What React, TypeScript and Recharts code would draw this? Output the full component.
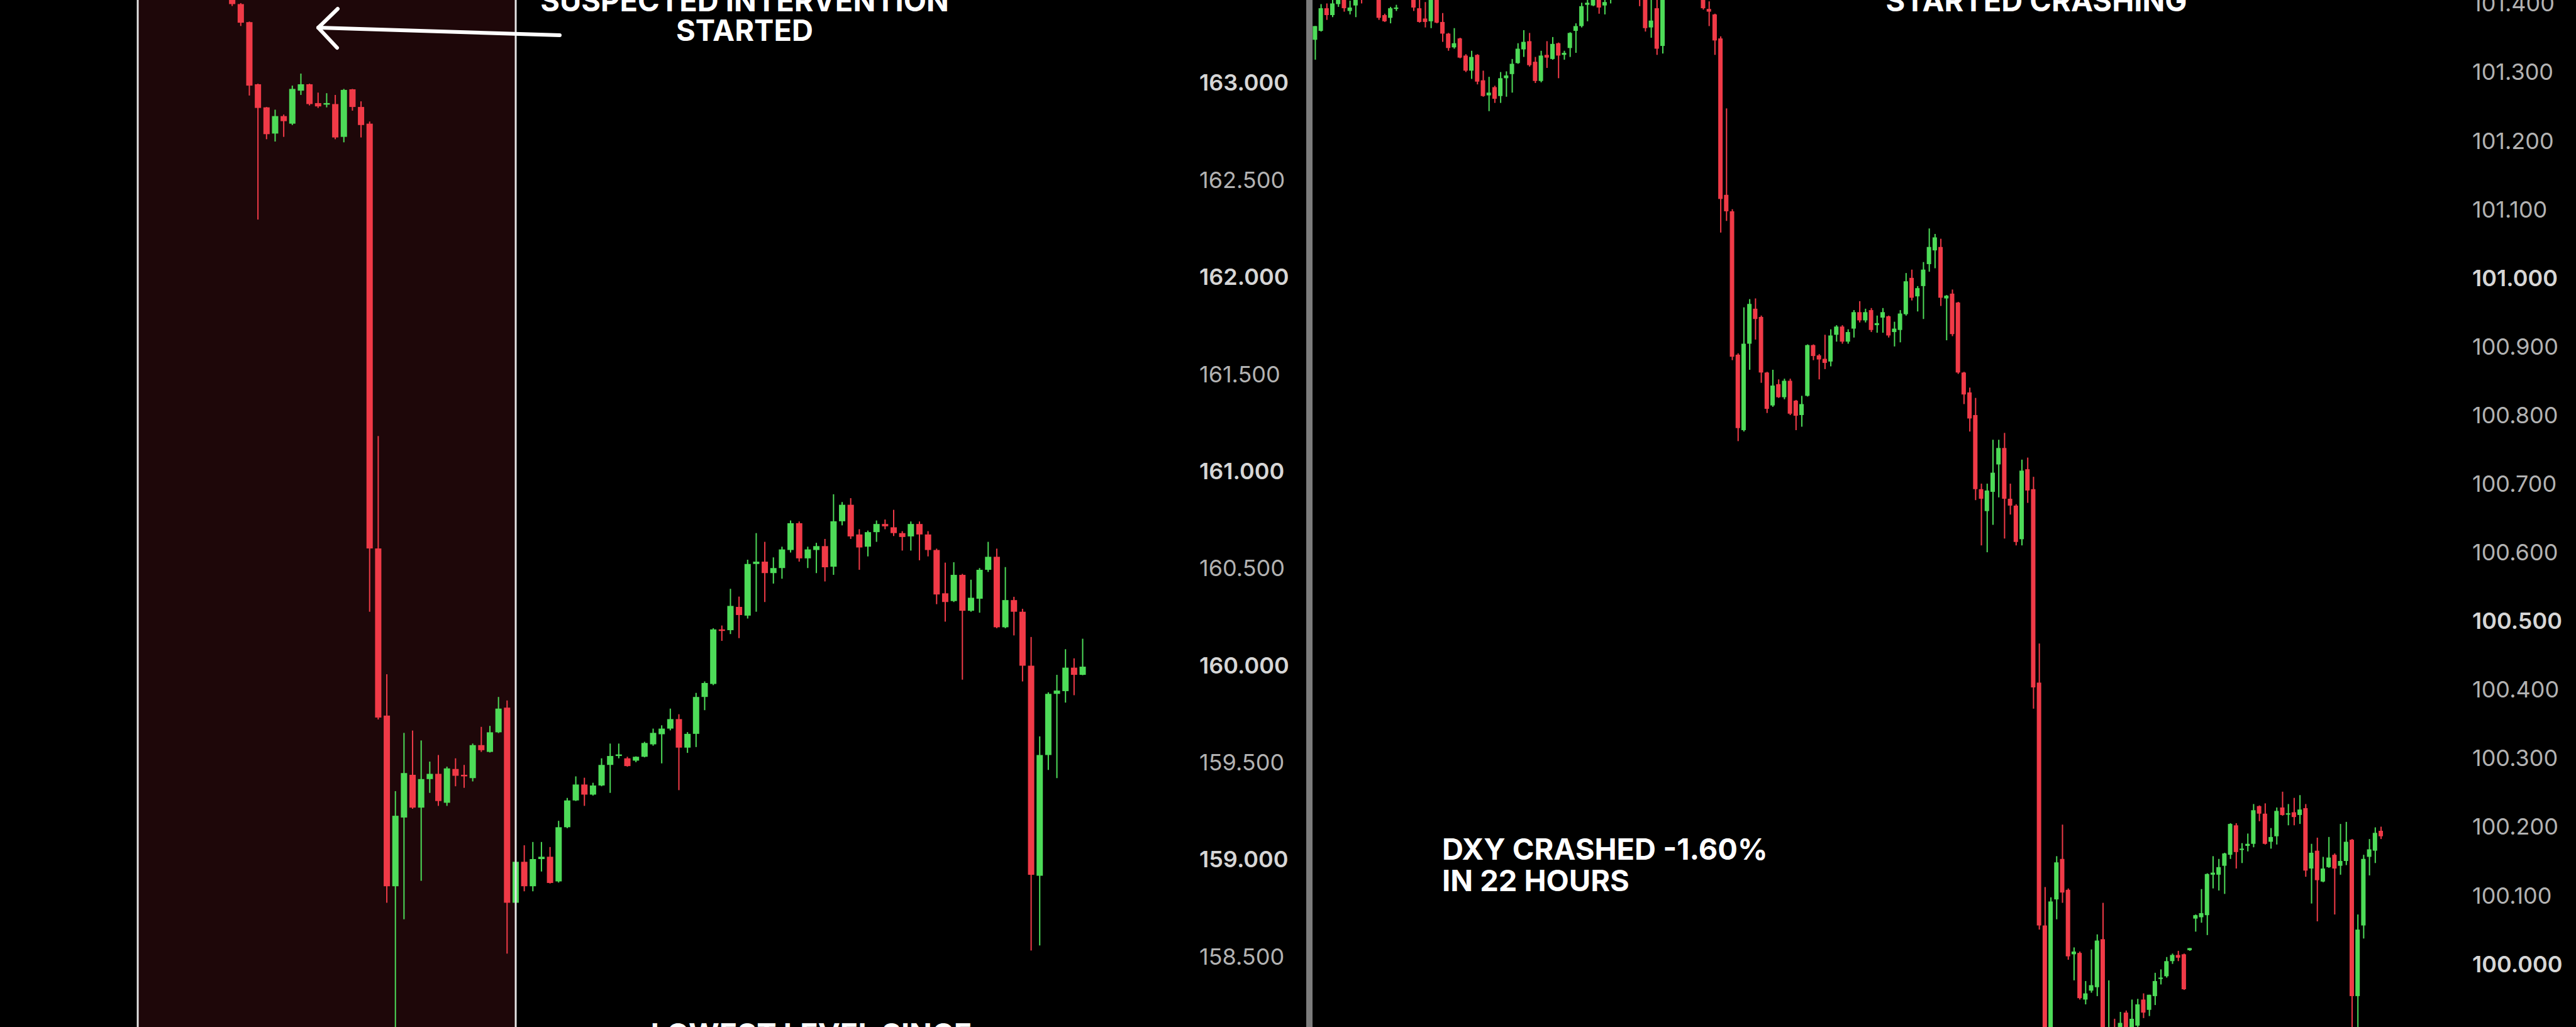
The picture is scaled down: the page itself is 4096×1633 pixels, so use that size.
import React from "react";
import { ComposedChart, Bar, XAxis, YAxis, ReferenceArea, ReferenceLine } from "recharts";

// USD/JPY (left panel), 100 candles
const leftOpen = [
  163.48, 163.405, 163.312, 162.992, 162.873, 162.738, 162.828, 162.789, 162.959, 162.992,
  162.895, 162.887, 162.89, 162.721, 162.966, 162.875, 162.789, 160.601, 159.74, 158.861,
  159.215, 159.435, 159.266, 159.413, 159.44, 159.291, 159.465, 159.435, 159.418, 159.588,
  159.553, 159.654, 159.781, 158.776, 158.987, 158.861, 159.001, 159.013, 158.886, 159.165,
  159.303, 159.385, 159.333, 159.38, 159.486, 159.532, 159.52, 159.508, 159.528, 159.592,
  159.644, 159.673, 159.722, 159.575, 159.646, 159.836, 159.903, 160.184, 160.18, 160.3,
  160.255, 160.521, 160.533, 160.474, 160.5, 160.593, 160.731, 160.55, 160.593, 160.613,
  160.507, 160.741, 160.826, 160.673, 160.61, 160.685, 160.727, 160.71, 160.68, 160.663,
  160.727, 160.673, 160.593, 160.37, 160.33, 160.465, 160.28, 160.342, 160.491, 160.558,
  160.195, 160.335, 160.275, 159.997, 158.915, 159.537, 159.852, 159.866, 159.987, 159.95,
];
const leftHigh = [
  163.52, 163.41, 163.315, 162.995, 162.875, 162.861, 162.836, 162.985, 163.047, 162.995,
  162.949, 162.946, 162.937, 162.968, 162.968, 162.904, 162.8, 161.18, 159.953, 159.351,
  159.651, 159.663, 159.612, 159.503, 159.537, 159.477, 159.52, 159.486, 159.596, 159.682,
  159.687, 159.836, 159.818, 159.131, 159.072, 159.089, 159.089, 159.063, 159.198, 159.316,
  159.427, 159.42, 159.394, 159.52, 159.596, 159.596, 159.528, 159.53, 159.605, 159.673,
  159.69, 159.776, 159.747, 159.655, 159.857, 159.916, 160.19, 160.204, 160.393, 160.353,
  160.543, 160.68, 160.635, 160.555, 160.61, 160.745, 160.74, 160.61, 160.63, 160.65,
  160.88, 160.84, 160.86, 160.7, 160.693, 160.745, 160.75, 160.8, 160.69, 160.74,
  160.74, 160.69, 160.6, 160.528, 160.53, 160.47, 160.44, 160.5, 160.635, 160.6,
  160.505, 160.352, 160.29, 160.145, 159.633, 159.86, 159.95, 160.082, 160.035, 160.136,
];
const leftLow = [
  163.395, 163.292, 162.934, 162.295, 162.709, 162.697, 162.721, 162.782, 162.937, 162.883,
  162.87, 162.873, 162.709, 162.693, 162.856, 162.718, 160.275, 159.72, 158.776, 158.0,
  158.691, 159.26, 158.889, 159.342, 159.275, 159.275, 159.376, 159.368, 159.401, 159.553,
  159.55, 159.65, 158.514, 158.742, 158.835, 158.835, 158.937, 158.875, 158.88, 159.16,
  159.3, 159.275, 159.328, 159.376, 159.342, 159.52, 159.477, 159.5, 159.525, 159.585,
  159.494, 159.664, 159.356, 159.548, 159.578, 159.768, 159.897, 160.125, 160.16, 160.139,
  160.24, 160.275, 160.325, 160.42, 160.445, 160.58, 160.533, 160.5, 160.474, 160.431,
  160.465, 160.72, 160.65, 160.491, 160.56, 160.635, 160.7, 160.665, 160.59, 160.59,
  160.54, 160.56, 160.314, 160.224, 160.325, 159.925, 160.275, 160.27, 160.48, 160.19,
  160.19, 160.153, 159.916, 158.53, 158.556, 159.46, 159.418, 159.807, 159.845, 159.948,
];
const leftClose = [
  163.405, 163.309, 162.985, 162.87, 162.735, 162.828, 162.802, 162.968, 162.992, 162.89,
  162.878, 162.895, 162.718, 162.963, 162.875, 162.782, 160.601, 159.73, 158.861, 159.224,
  159.444, 159.266, 159.413, 159.44, 159.3, 159.468, 159.43, 159.427, 159.588, 159.562,
  159.654, 159.776, 158.776, 158.987, 158.861, 159.001, 159.013, 158.878, 159.165, 159.303,
  159.385, 159.333, 159.38, 159.486, 159.532, 159.54, 159.48, 159.528, 159.599, 159.651,
  159.673, 159.722, 159.575, 159.646, 159.836, 159.908, 160.184, 160.176, 160.305, 160.258,
  160.521, 160.533, 160.474, 160.5, 160.596, 160.731, 160.55, 160.596, 160.613, 160.504,
  160.741, 160.826, 160.663, 160.606, 160.685, 160.727, 160.715, 160.68, 160.66, 160.727,
  160.673, 160.593, 160.364, 160.325, 160.465, 160.28, 160.347, 160.491, 160.558, 160.195,
  160.335, 160.275, 159.997, 158.92, 159.537, 159.852, 159.869, 159.987, 159.95, 159.992,
];

// DXY (right panel), 185 candles
const rightOpen = [
  101.347, 101.36, 101.393, 101.383, 101.399, 101.42, 101.389, 101.397, 101.42, 101.42,
  101.44, 101.43, 101.383, 101.379, 101.392, 101.415, 101.43, 101.42, 101.393, 101.378,
  101.374, 101.415, 101.373, 101.356, 101.336, 101.349, 101.324, 101.302, 101.325, 101.288,
  101.266, 101.278, 101.265, 101.291, 101.297, 101.313, 101.333, 101.345, 101.315, 101.287,
  101.325, 101.319, 101.342, 101.325, 101.335, 101.36, 101.367, 101.398, 101.397, 101.415,
  101.397, 101.405, 101.415, 101.435, 101.445, 101.432, 101.43, 101.42, 101.365, 101.393,
  101.338, 101.415, 101.43, 101.445, 101.44, 101.45, 101.435, 101.42, 101.392, 101.384,
  101.349, 101.121, 101.097, 100.888, 100.778, 100.904, 100.955, 100.943, 100.862, 100.814,
  100.845, 100.826, 100.85, 100.821, 100.8, 100.828, 100.902, 100.887, 100.882, 100.878,
  100.917, 100.929, 100.907, 100.926, 100.95, 100.938, 100.953, 100.931, 100.942, 100.944,
  100.921, 100.924, 100.947, 101.0, 100.973, 100.988, 101.02, 101.04, 101.045, 100.97,
  100.977, 100.964, 100.862, 100.833, 100.8, 100.692, 100.66, 100.688, 100.728, 100.752,
  100.678, 100.668, 100.619, 100.721, 100.692, 100.41, 100.056, 99.86, 100.094, 100.153,
  100.108, 100.014, 100.016, 99.948, 99.961, 99.966, 100.036, 99.87, 99.9, 99.89,
  99.929, 99.9, 99.91, 99.948, 99.933, 99.953, 99.978, 99.982, 100.004, 100.013,
  100.014, 100.02, 100.066, 100.068, 100.071, 100.13, 100.13, 100.143, 100.159, 100.202,
  100.166, 100.172, 100.175, 100.23, 100.219, 100.178, 100.186, 100.228, 100.218, 100.221,
  100.217, 100.227, 100.139, 100.165, 100.12, 100.141, 100.159, 100.143, 100.15, 100.181,
  99.953, 100.056, 100.156, 100.165, 100.194,
];
const rightHigh = [
  101.367, 101.399, 101.4, 101.41, 101.42, 101.43, 101.404, 101.42, 101.43, 101.45,
  101.46, 101.44, 101.385, 101.395, 101.398, 101.44, 101.445, 101.43, 101.405, 101.402,
  101.42, 101.42, 101.386, 101.357, 101.364, 101.35, 101.326, 101.331, 101.326, 101.302,
  101.293, 101.28, 101.3, 101.301, 101.319, 101.342, 101.361, 101.357, 101.322, 101.331,
  101.345, 101.351, 101.343, 101.331, 101.358, 101.371, 101.401, 101.41, 101.42, 101.42,
  101.41, 101.42, 101.44, 101.455, 101.46, 101.445, 101.44, 101.43, 101.41, 101.41,
  101.42, 101.44, 101.45, 101.465, 101.455, 101.46, 101.445, 101.43, 101.403, 101.385,
  101.352, 101.247, 101.1, 100.89, 100.957, 100.969, 100.97, 100.945, 100.863, 100.866,
  100.852, 100.853, 100.853, 100.822, 100.828, 100.903, 100.903, 100.889, 100.917, 100.925,
  100.931, 100.931, 100.925, 100.953, 100.966, 100.955, 100.956, 100.945, 100.956, 100.945,
  100.936, 100.953, 101.007, 101.012, 100.988, 101.023, 101.072, 101.064, 101.057, 100.975,
  100.983, 100.965, 100.863, 100.84, 100.825, 100.7, 100.7, 100.764, 100.764, 100.774,
  100.7, 100.67, 100.735, 100.738, 100.71, 100.467, 100.112, 100.097, 100.157, 100.203,
  100.11, 100.024, 100.018, 99.975, 100.021, 100.043, 100.089, 99.976, 99.92, 99.93,
  99.932, 99.948, 99.949, 99.957, 99.955, 99.987, 99.992, 100.01, 100.015, 100.019,
  100.015, 100.023, 100.072, 100.109, 100.132, 100.157, 100.153, 100.162, 100.205, 100.205,
  100.176, 100.19, 100.233, 100.231, 100.234, 100.198, 100.228, 100.251, 100.233, 100.242,
  100.246, 100.233, 100.175, 100.184, 100.156, 100.185, 100.161, 100.204, 100.207, 100.182,
  100.072, 100.159, 100.182, 100.199, 100.2,
];
const rightLow = [
  101.318, 101.359, 101.376, 101.38, 101.395, 101.388, 101.384, 101.38, 101.4, 101.412,
  101.415, 101.376, 101.373, 101.371, 101.389, 101.41, 101.412, 101.389, 101.372, 101.365,
  101.364, 101.371, 101.344, 101.331, 101.334, 101.32, 101.3, 101.29, 101.282, 101.264,
  101.243, 101.255, 101.255, 101.264, 101.27, 101.312, 101.322, 101.308, 101.284, 101.285,
  101.306, 101.318, 101.291, 101.318, 101.322, 101.328, 101.365, 101.374, 101.396, 101.385,
  101.384, 101.4, 101.41, 101.42, 101.425, 101.415, 101.396, 101.359, 101.35, 101.325,
  101.327, 101.41, 101.42, 101.43, 101.425, 101.43, 101.415, 101.391, 101.367, 101.325,
  101.066, 101.083, 100.88, 100.762, 100.776, 100.866, 100.91, 100.847, 100.803, 100.812,
  100.825, 100.823, 100.8, 100.778, 100.783, 100.827, 100.88, 100.852, 100.867, 100.871,
  100.907, 100.904, 100.904, 100.913, 100.935, 100.935, 100.921, 100.92, 100.92, 100.913,
  100.9, 100.906, 100.945, 100.967, 100.951, 100.94, 101.009, 101.014, 100.959, 100.909,
  100.915, 100.86, 100.816, 100.776, 100.676, 100.61, 100.6, 100.64, 100.68, 100.62,
  100.655, 100.61, 100.61, 100.672, 100.372, 100.05, 99.84, 99.84, 100.065, 100.089,
  100.006, 99.976, 99.948, 99.941, 99.958, 99.953, 99.86, 99.86, 99.87, 99.88,
  99.89, 99.89, 99.9, 99.921, 99.924, 99.94, 99.97, 99.98, 100.0, 100.004,
  99.962, 100.019, 100.047, 100.06, 100.042, 100.11, 100.107, 100.102, 100.153, 100.139,
  100.147, 100.164, 100.17, 100.208, 100.174, 100.168, 100.174, 100.216, 100.202, 100.202,
  100.204, 100.127, 100.088, 100.062, 100.119, 100.14, 100.072, 100.13, 100.144, 99.9,
  99.9, 100.037, 100.129, 100.147, 100.182,
];
const rightClose = [
  101.367, 101.393, 101.383, 101.4, 101.41, 101.393, 101.394, 101.41, 101.41, 101.44,
  101.43, 101.379, 101.374, 101.393, 101.394, 101.43, 101.425, 101.394, 101.373, 101.373,
  101.415, 101.372, 101.356, 101.335, 101.342, 101.321, 101.302, 101.322, 101.286, 101.265,
  101.27, 101.261, 101.291, 101.295, 101.312, 101.334, 101.344, 101.31, 101.287, 101.324,
  101.321, 101.341, 101.324, 101.328, 101.357, 101.367, 101.396, 101.401, 101.41, 101.394,
  101.402, 101.412, 101.435, 101.445, 101.432, 101.425, 101.415, 101.364, 101.375, 101.334,
  101.415, 101.43, 101.445, 101.44, 101.45, 101.435, 101.425, 101.393, 101.388, 101.346,
  101.115, 101.097, 100.885, 100.781, 100.904, 100.962, 100.94, 100.862, 100.809, 100.843,
  100.826, 100.85, 100.802, 100.799, 100.816, 100.902, 100.886, 100.881, 100.876, 100.916,
  100.929, 100.907, 100.921, 100.95, 100.938, 100.95, 100.924, 100.934, 100.95, 100.916,
  100.926, 100.948, 100.995, 100.971, 100.985, 101.012, 101.045, 101.059, 100.971, 100.974,
  100.918, 100.862, 100.83, 100.795, 100.692, 100.678, 100.69, 100.716, 100.752, 100.678,
  100.668, 100.615, 100.719, 100.69, 100.403, 100.056, 99.86, 100.091, 100.148, 100.104,
  100.011, 100.018, 99.95, 99.957, 99.969, 100.034, 99.88, 99.9, 99.88, 99.914,
  99.9, 99.92, 99.941, 99.929, 99.955, 99.975, 99.98, 100.004, 100.013, 100.009,
  99.963, 100.023, 100.071, 100.074, 100.131, 100.133, 100.141, 100.161, 100.204, 100.163,
  100.168, 100.175, 100.224, 100.219, 100.175, 100.185, 100.223, 100.217, 100.219, 100.214,
  100.225, 100.136, 100.162, 100.122, 100.139, 100.155, 100.139, 100.15, 100.178, 99.953,
  100.05, 100.153, 100.167, 100.191, 100.186,
];

const leftTicks = [158.5, 159, 159.5, 160, 160.5, 161, 161.5, 162, 162.5, 163];
const leftBoldTicks = [159, 160, 161, 162, 163];
const rightTicks = [100, 100.1, 100.2, 100.3, 100.4, 100.5, 100.6, 100.7, 100.8, 100.9, 101, 101.1, 101.2, 101.3, 101.4];
const rightBoldTicks = [100, 100.5, 101];

const UP = "#4ddb58";
const DOWN = "#f03a47";
const FONT = "Inter, 'Noto Sans', sans-serif";

interface Candle {
  i: number;
  wick: [number, number];
  body: [number, number];
  up: boolean;
}

function buildCandles(o: number[], h: number[], l: number[], c: number[], minBody: number): Candle[] {
  return o.map((open, i) => {
    const close = c[i];
    let b0 = Math.min(open, close);
    let b1 = Math.max(open, close);
    if (b1 - b0 < minBody) {
      const mid = (b0 + b1) / 2;
      b0 = mid - minBody / 2;
      b1 = mid + minBody / 2;
    }
    return {
      i,
      wick: [Math.min(l[i], b0), Math.max(h[i], b1)],
      body: [b0, b1],
      up: close >= open,
    };
  });
}

const leftData = buildCandles(leftOpen, leftHigh, leftLow, leftClose, 0.006);
const rightData = buildCandles(rightOpen, rightHigh, rightLow, rightClose, 0.002);

const CandleRect = (props: any) => {
  const { x, y, width, height, payload } = props;
  if (x == null || y == null) return null;
  const top = height < 0 ? y + height : y;
  return <rect x={x} y={top} width={width} height={Math.abs(height)} fill={payload.up ? UP : DOWN} />;
};

const makeTick = (bold: number[]) => (props: any) => {
  const { x, y, payload } = props;
  const isBold = bold.some((b) => Math.abs(b - payload.value) < 1e-6);
  return (
    <text
      x={x}
      y={y}
      dy="0.36em"
      textAnchor="start"
      fontFamily={FONT}
      fontSize={36}
      fontWeight={isBold ? 600 : 400}
      fill={isBold ? "#d6d6d6" : "#b2b2b2"}
    >
      {Number(payload.value).toFixed(3)}
    </text>
  );
};

interface PanelProps {
  data: Candle[];
  width: number;
  axisWidth: number;
  xDomain: [number, number];
  yDomain: [number, number];
  ticks: number[];
  boldTicks: number[];
  bodyWidth: number;
  children?: React.ReactNode;
  overlay?: React.ReactNode;
}

function CandlePanel({ data, width, axisWidth, xDomain, yDomain, ticks, boldTicks, bodyWidth, children, overlay }: PanelProps) {
  return (
    <ComposedChart width={width} height={1633} data={data} margin={{ top: 0, right: 0, bottom: 0, left: 0 }}>
      <XAxis xAxisId="w" type="number" dataKey="i" domain={xDomain} allowDataOverflow hide />
      <XAxis xAxisId="b" type="number" dataKey="i" domain={xDomain} allowDataOverflow hide />
      <YAxis
        orientation="right"
        width={axisWidth}
        domain={yDomain}
        allowDataOverflow
        ticks={ticks}
        interval={0}
        axisLine={false}
        tickLine={false}
        tickSize={0}
        tickMargin={0}
        tick={makeTick(boldTicks)}
      />
      {children}
      <Bar xAxisId="w" dataKey="wick" barSize={2} shape={CandleRect} isAnimationActive={false} />
      <Bar xAxisId="b" dataKey="body" barSize={bodyWidth} shape={CandleRect} isAnimationActive={false} />
      {overlay}
    </ComposedChart>
  );
}

// left: candle i centred at 369 + 13.66 * i, plot area 0..1907
const L_STEP = 13.66;
const L_X0 = 369;
const lIdx = (px: number) => (px - L_X0) / L_STEP;

// right: candle j centred at 4 + 9.21 * j (relative to panel), plot area 0..1844
const R_STEP = 9.21;
const R_X0 = 4;
const rIdx = (px: number) => (px - R_X0) / R_STEP;

export default function App() {
  const boldText = { fontFamily: FONT, fontWeight: 700, fontSize: 47, fill: "#ffffff" } as const;
  return (
    <div style={{ position: "absolute", top: 0, left: 0, width: 4096, height: 1633, background: "#000", overflow: "hidden" }}>
      <div style={{ position: "absolute", left: 0, top: 0 }}>
        <CandlePanel
          data={leftData}
          width={2077}
          axisWidth={170}
          xDomain={[lIdx(0), lIdx(1907)]}
          yDomain={[158.136, 163.426]}
          ticks={leftTicks}
          boldTicks={leftBoldTicks}
          bodyWidth={10}
          overlay={[
            <ReferenceLine key="l1" xAxisId="w" x={lIdx(219)} stroke="#e4e4e4" strokeWidth={3} />,
            <ReferenceLine key="l2" xAxisId="w" x={lIdx(820)} stroke="#e4e4e4" strokeWidth={3} />,
          ]}
        >
          <ReferenceArea xAxisId="w" x1={lIdx(219)} x2={lIdx(820)} fill="#1e0709" fillOpacity={1} stroke="none" />
        </CandlePanel>
      </div>
      <div style={{ position: "absolute", left: 2077, top: 0, width: 10, height: 1633, background: "#7c7c7c" }} />
      <div style={{ position: "absolute", left: 2087, top: 0 }}>
        <CandlePanel
          data={rightData}
          width={2009}
          axisWidth={165}
          xDomain={[rIdx(0), rIdx(1844)]}
          yDomain={[99.908, 101.405]}
          ticks={rightTicks}
          boldTicks={rightBoldTicks}
          bodyWidth={7}
        />
      </div>
      <svg width={4096} height={1633} style={{ position: "absolute", left: 0, top: 0, pointerEvents: "none" }}>
        <polyline points="890,56 506,44" fill="none" stroke="#fff" strokeWidth={6} strokeLinecap="round" />
        <polyline points="537,14 506,44 536,76" fill="none" stroke="#fff" strokeWidth={6} strokeLinecap="round" strokeLinejoin="round" />
        <text x={1184} y={18} textAnchor="middle" {...boldText}>SUSPECTED INTERVENTION</text>
        <text x={1184} y={65} textAnchor="middle" {...boldText}>STARTED</text>
        <text x={1290} y={1661} textAnchor="middle" {...boldText}>LOWEST LEVEL SINCE</text>
        <text x={3238} y={18} textAnchor="middle" {...boldText}>STARTED CRASHING</text>
        <text x={2293} y={1367} textAnchor="start" {...boldText}>DXY CRASHED -1.60%</text>
        <text x={2293} y={1417} textAnchor="start" {...boldText}>IN 22 HOURS</text>
      </svg>
    </div>
  );
}
